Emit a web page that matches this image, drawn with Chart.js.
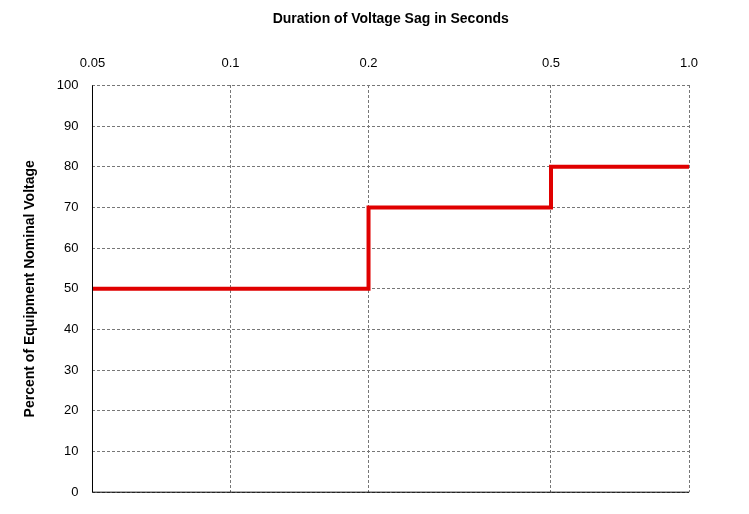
<!DOCTYPE html>
<html>
<head>
<script src="https://cdn.jsdelivr.net/npm/chart.js@4"></script>
<style>
body { margin: 0; background: #fff; }
#wrap { width: 749px; height: 514px; }
</style>
</head>
<body>
<div id="wrap"><canvas id="c"></canvas></div>
<script>
const durations = [0.05, 0.2, 0.2, 0.5, 0.5, 1.0];
const voltages = [50, 50, 70, 70, 80, 80];
const xTicks = [0.05, 0.1, 0.2, 0.5, 1.0];
const xTickLabels = ['0.05', '0.1', '0.2', '0.5', '1.0'];

const frame = {
    id: 'frame',
    afterDraw(chart) {
        const { ctx, chartArea: a } = chart;
        ctx.save();
        ctx.strokeStyle = '#000';
        ctx.lineWidth = 1;
        ctx.beginPath();
        ctx.moveTo(a.left, a.top);
        ctx.lineTo(a.left, a.bottom);
        ctx.lineTo(a.right, a.bottom);
        ctx.stroke();
        ctx.restore();
    }
};

new Chart(document.getElementById('c'), {
    type: 'line',
    data: {
        datasets: [{
            data: durations.map((d, i) => ({ x: d, y: voltages[i] })),
            borderColor: '#e00000',
            borderWidth: 4,
            pointRadius: 0,
            tension: 0
        }]
    },
    options: {
        responsive: true,
        maintainAspectRatio: false,
        animation: false,
        layout: { padding: { left: 18, right: 60, top: 7, bottom: 12 } },
        plugins: { legend: { display: false }, tooltip: { enabled: false } },
        scales: {
            x: {
                type: 'logarithmic', position: 'top', min: 0.05, max: 1.0,
                afterBuildTicks: s => { s.ticks = xTicks.map(v => ({ value: v })); },
                ticks: {
                    color: '#000', font: { family: 'Liberation Sans', size: 13 }, maxRotation: 0, padding: 14,
                    callback: (v, i) => xTickLabels[i]
                },
                grid: { color: '#777', drawTicks: false },
                border: { display: false, dash: [3, 2] },
                title: { display: true, text: 'Duration of Voltage Sag in Seconds', color: '#000',
                         font: { family: 'Liberation Sans', size: 14, weight: 'bold' }, padding: { bottom: 14 } }
            },
            y: {
                min: 0, max: 100,
                ticks: { stepSize: 10, color: '#000', font: { family: 'Liberation Sans', size: 13 }, padding: 14 },
                grid: { color: '#777', drawTicks: false },
                border: { display: false, dash: [3, 2] },
                title: { display: true, text: 'Percent of Equipment Nominal Voltage', color: '#000',
                         font: { family: 'Liberation Sans', size: 14, weight: 'bold' }, padding: { bottom: 4 } }
            }
        }
    },
    plugins: [frame]
});
</script>
</body>
</html>
